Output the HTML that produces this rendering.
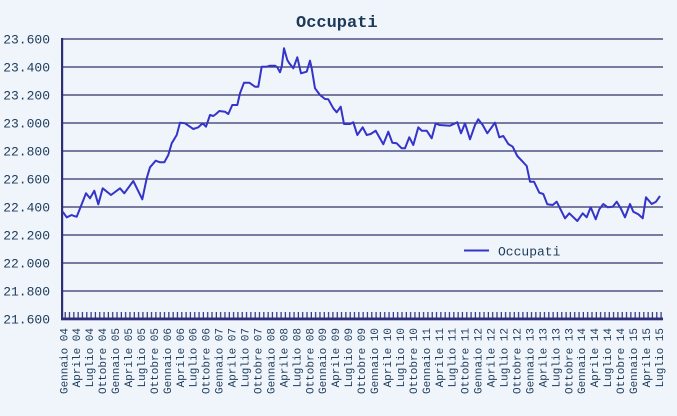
<!DOCTYPE html>
<html><head><meta charset="utf-8"><style>
html,body{margin:0;padding:0;background:#f0f5fc;}
svg{display:block;}
</style></head><body>
<svg width="677" height="416" viewBox="0 0 677 416" xmlns="http://www.w3.org/2000/svg">
<defs>
<pattern id="tk" x="62" y="0" width="4.318" height="416" patternUnits="userSpaceOnUse">
<rect x="2.6" y="312" width="1.2" height="6" fill="#2e2e78"/>
</pattern>
</defs>
<rect width="677" height="416" fill="#f0f5fc"/>
<text x="296" y="27" font-family="Liberation Mono, monospace" font-weight="bold" font-size="17" fill="#1c3a58">Occupati</text>
<g stroke="#30306a" stroke-width="1.2">
<line x1="62" y1="39" x2="663" y2="39"/>
<line x1="62" y1="67" x2="663" y2="67"/>
<line x1="62" y1="95" x2="663" y2="95"/>
<line x1="62" y1="123" x2="663" y2="123"/>
<line x1="62" y1="151" x2="663" y2="151"/>
<line x1="62" y1="179" x2="663" y2="179"/>
<line x1="62" y1="207" x2="663" y2="207"/>
<line x1="62" y1="235" x2="663" y2="235"/>
<line x1="62" y1="263" x2="663" y2="263"/>
<line x1="62" y1="291" x2="663" y2="291"/>
</g>
<rect x="62" y="311" width="601" height="8" fill="url(#tk)"/>
<rect x="61" y="317.5" width="602" height="2.8" fill="#2e2e78"/>
<rect x="61" y="38" width="2.2" height="282" fill="#2e2e78"/>
<g font-family="Liberation Mono, monospace" font-size="13" fill="#1c3a58" text-anchor="end">
<text x="50" y="43.5">23.600</text>
<text x="50" y="71.5">23.400</text>
<text x="50" y="99.5">23.200</text>
<text x="50" y="127.5">23.000</text>
<text x="50" y="155.5">22.800</text>
<text x="50" y="183.5">22.600</text>
<text x="50" y="211.5">22.400</text>
<text x="50" y="239.5">22.200</text>
<text x="50" y="267.5">22.000</text>
<text x="50" y="295.5">21.800</text>
<text x="50" y="323.5">21.600</text>
</g>
<polyline fill="none" stroke="#3434c8" stroke-width="2" stroke-linejoin="round" points="62.7,211.7 66.7,217.3 71.7,215 74,216 76.7,216.7 80.7,206.7 86,193.3 90,198.3 94.3,190.7 98.3,204.3 102.7,188.3 111,195 120,188.3 124.3,193.3 133.3,181 142.3,199.3 146.7,178.3 150,167.3 155.7,160.7 160,162.3 164.3,162.3 168.3,155 171.7,143.3 176.7,135 180,122.7 185,123.3 193.3,129 198.3,127.3 202.7,123.3 206,126.7 210,115 213.3,116 216,114 219.3,111 225,111.7 228.3,114 232.3,105 237.3,105 240,93.3 244,82.7 249.3,82.7 255,86.7 258.3,86.7 261.7,66.7 266.7,66.7 270,65.7 275,65.7 277.3,67.3 280,72.3 281.7,66.7 284,48.3 287.3,60 289.3,63.3 293.3,68.3 297.3,57.3 301,73.3 306.7,71.7 310,60.7 311.7,68.3 315,88.3 320,95 325,99 328.3,99.3 333.3,108.3 336.7,112.3 340.7,106.7 344,124 350,124 353.3,122.3 357.3,135 362.7,127.3 366.7,135 370.7,134 375.7,130.7 383.3,144.3 388.3,131.7 392.3,142.7 396.7,143.3 401.7,148.3 405,148.3 409.3,137.3 413.3,145 418.3,127.3 421.7,130.7 426.7,130.7 431.7,138.3 435.7,123.3 439.3,125 450,125.7 457.3,122.3 461,133.3 465,123.3 470,139.3 475,125 478.3,119.3 482.7,125 487.3,133.3 495,122.7 499.3,137.3 503.3,136 508.3,144 512.7,146.7 517.3,156 522.7,161.7 526.7,166 530,181.7 534,181.7 539.3,192.7 543.3,194 547.3,204.3 552.7,205 556.7,201.7 560,208.3 565,218.3 569.3,213.3 577.3,221 582.7,213.3 586.7,217.3 590.7,207.3 595.7,219.3 599.3,209.3 603.3,204 607.7,207.3 612.7,206.7 616.7,201.7 620.7,208.3 625,217.3 630,204 633.3,211.7 638.3,214.3 642.7,218.3 646,197.3 651.7,204 656,201.7 660,196"/>
<line x1="464" y1="250.5" x2="489" y2="250.5" stroke="#3434c8" stroke-width="2"/>
<text x="498" y="255.5" font-family="Liberation Mono, monospace" font-size="13" fill="#1c3a58">Occupati</text>
<g font-family="Liberation Mono, monospace" font-size="11" fill="#1c3a58" text-anchor="end">
<text transform="translate(67.3,328) rotate(-90)">Gennaio 04</text>
<text transform="translate(80.2,328) rotate(-90)">Aprile 04</text>
<text transform="translate(93.2,328) rotate(-90)">Luglio 04</text>
<text transform="translate(106.1,328) rotate(-90)">Ottobre 04</text>
<text transform="translate(119.1,328) rotate(-90)">Gennaio 05</text>
<text transform="translate(132.0,328) rotate(-90)">Aprile 05</text>
<text transform="translate(144.9,328) rotate(-90)">Luglio 05</text>
<text transform="translate(157.9,328) rotate(-90)">Ottobre 05</text>
<text transform="translate(170.8,328) rotate(-90)">Gennaio 06</text>
<text transform="translate(183.8,328) rotate(-90)">Aprile 06</text>
<text transform="translate(196.7,328) rotate(-90)">Luglio 06</text>
<text transform="translate(209.7,328) rotate(-90)">Ottobre 06</text>
<text transform="translate(222.6,328) rotate(-90)">Gennaio 07</text>
<text transform="translate(235.6,328) rotate(-90)">Aprile 07</text>
<text transform="translate(248.5,328) rotate(-90)">Luglio 07</text>
<text transform="translate(261.5,328) rotate(-90)">Ottobre 07</text>
<text transform="translate(274.4,328) rotate(-90)">Gennaio 08</text>
<text transform="translate(287.4,328) rotate(-90)">Aprile 08</text>
<text transform="translate(300.3,328) rotate(-90)">Luglio 08</text>
<text transform="translate(313.3,328) rotate(-90)">Ottobre 08</text>
<text transform="translate(326.2,328) rotate(-90)">Gennaio 09</text>
<text transform="translate(339.2,328) rotate(-90)">Aprile 09</text>
<text transform="translate(352.1,328) rotate(-90)">Luglio 09</text>
<text transform="translate(365.1,328) rotate(-90)">Ottobre 09</text>
<text transform="translate(378.0,328) rotate(-90)">Gennaio 10</text>
<text transform="translate(391.0,328) rotate(-90)">Aprile 10</text>
<text transform="translate(403.9,328) rotate(-90)">Luglio 10</text>
<text transform="translate(416.9,328) rotate(-90)">Ottobre 10</text>
<text transform="translate(429.8,328) rotate(-90)">Gennaio 11</text>
<text transform="translate(442.8,328) rotate(-90)">Aprile 11</text>
<text transform="translate(455.7,328) rotate(-90)">Luglio 11</text>
<text transform="translate(468.7,328) rotate(-90)">Ottobre 11</text>
<text transform="translate(481.6,328) rotate(-90)">Gennaio 12</text>
<text transform="translate(494.6,328) rotate(-90)">Aprile 12</text>
<text transform="translate(507.5,328) rotate(-90)">Luglio 12</text>
<text transform="translate(520.5,328) rotate(-90)">Ottobre 12</text>
<text transform="translate(533.4,328) rotate(-90)">Gennaio 13</text>
<text transform="translate(546.4,328) rotate(-90)">Aprile 13</text>
<text transform="translate(559.3,328) rotate(-90)">Luglio 13</text>
<text transform="translate(572.3,328) rotate(-90)">Ottobre 13</text>
<text transform="translate(585.2,328) rotate(-90)">Gennaio 14</text>
<text transform="translate(598.2,328) rotate(-90)">Aprile 14</text>
<text transform="translate(611.1,328) rotate(-90)">Luglio 14</text>
<text transform="translate(624.1,328) rotate(-90)">Ottobre 14</text>
<text transform="translate(637.0,328) rotate(-90)">Gennaio 15</text>
<text transform="translate(650.0,328) rotate(-90)">Aprile 15</text>
<text transform="translate(662.9,328) rotate(-90)">Luglio 15</text>
</g>
</svg>
</body></html>
